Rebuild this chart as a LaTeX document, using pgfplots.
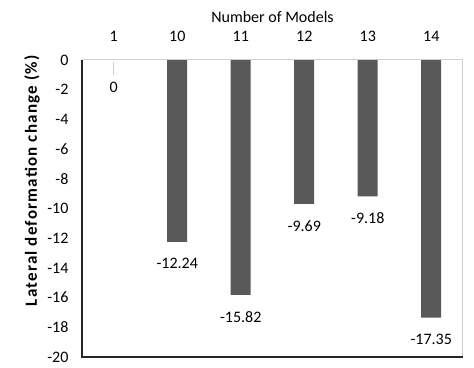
\documentclass[border=0pt]{standalone}
\usepackage{pgfplots}
\pgfplotsset{compat=1.18}
\usepackage{fontspec}
\setmainfont{Carlito}
\newfontfamily\ylabfont[LetterSpace=7]{Carlito}
\definecolor{barc}{HTML}{595959}
\definecolor{gridc}{HTML}{D0D0D0}
\begin{document}
\fontsize{16}{19}\selectfont
\begin{tikzpicture}
\begin{axis}[
  scale only axis,
  width=381pt, height=297pt,
  ymin=-20, ymax=0,
  xmin=-0.5, xmax=5.5,
  ytick={0,-2,...,-20},
  xtick={0,1,2,3,4,5},
  xticklabels={1,10,11,12,13,14},
  xticklabel pos=upper,
  major tick length=0pt,
  axis line style={draw=none},
  /pgf/number format/assume math mode=true,
  tick label style={font=\fontsize{16}{19}\selectfont},
  yticklabel style={xshift=-8pt},
  xticklabel style={yshift=13pt},
  xlabel={Number of Models},
  xlabel style={at={(axis description cs:0.5,1)}, anchor=south, yshift=32pt, font=\fontsize{16}{19}\selectfont},
  ylabel={Lateral deformation change (\%)},
  ylabel style={at={(axis description cs:-0.131,0.593)}, anchor=center, font=\ylabfont\fontsize{17}{20}\selectfont\bfseries},
  ybar, bar width=20pt,
  clip=false,
]
\addplot[fill=barc, draw=none, bar shift=0pt,
  nodes near coords, point meta=explicit symbolic,
  nodes near coords style={font=\fontsize{16}{19}\selectfont, anchor=north, yshift=-11pt}]
  table[meta=label] {
x y label
1 -12.24 -12.24
2 -15.82 -15.82
3 -9.69 -9.69
4 -9.18 -9.18
5 -17.35 -17.35
};
\addplot[fill=barc, draw=none, bar shift=0pt,
  nodes near coords, point meta=explicit symbolic,
  nodes near coords style={font=\fontsize{16}{19}\selectfont, anchor=north, yshift=-17pt}]
  table[meta=label] {
x y label
0 0 0
};
\draw[gridc, line width=0.8pt] (axis cs:0,-0.15) -- (axis cs:0,-1.0);
\draw[gridc, line width=1pt] (rel axis cs:0,1) -- (rel axis cs:1,1) -- (rel axis cs:1,0);
\draw[black!85, line width=1.2pt] (rel axis cs:0,1) -- (rel axis cs:0,0) -- (rel axis cs:1,0);
\path (rel axis cs:0,0) ++(-82pt,-9pt) coordinate (bbA);
\path (rel axis cs:1,1) ++(11pt,60pt) coordinate (bbB);
\path (bbA) rectangle (bbB);
\end{axis}
\end{tikzpicture}
\end{document}
